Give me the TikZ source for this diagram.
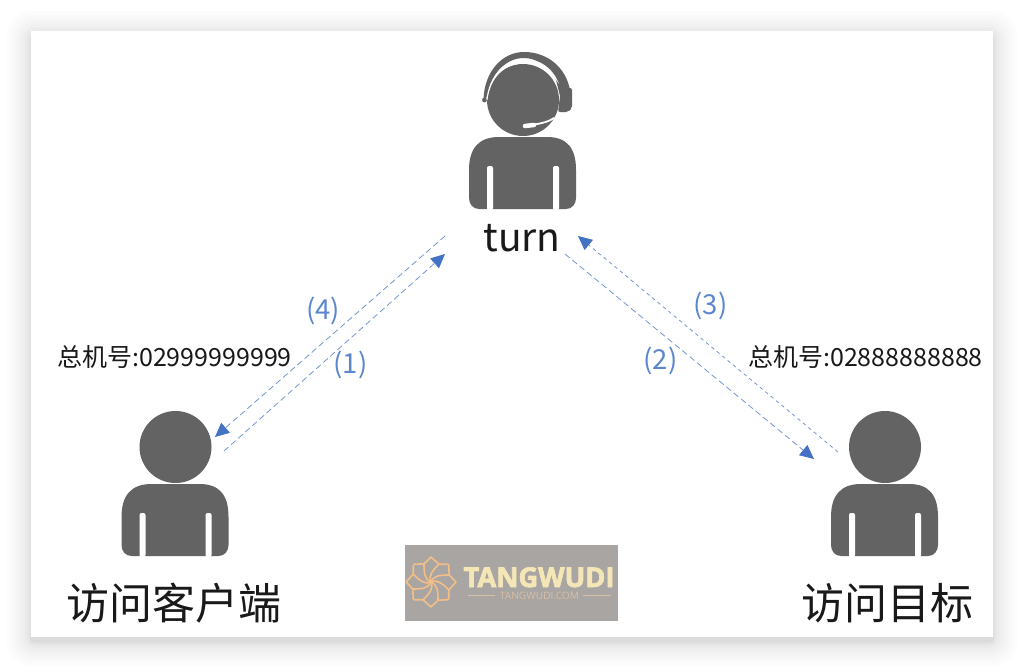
\documentclass[tikz,border=0pt]{standalone}
\usepackage{fontspec}
\setmainfont{Noto Sans CJK SC}
\newfontfamily\logofont[BoldFeatures={FakeBold=2.5}]{Open Sans}
\usetikzlibrary{arrows.meta}
\definecolor{figgray}{HTML}{636363}
\definecolor{flowblue}{HTML}{4472C4}
\definecolor{stepblue}{HTML}{5B87CF}
\definecolor{logogray}{HTML}{A9A5A2}
\definecolor{logopetal}{HTML}{F3BE88}
\definecolor{logoname}{HTML}{F5E6B8}
\definecolor{logosub}{HTML}{D8BFA6}
\tikzset{
	personfig/.pic={
		\fill[figgray] (0,0) circle (36);
		\fill[figgray] (-44,109) .. controls (-50,109) and (-54,104) .. (-54,98) -- (-54,70) .. controls (-54,48) and (-44,37) .. (-24,37) -- (24,37) .. controls (44,37) and (53,48) .. (53,70) -- (53,98) .. controls (53,104) and (49,109) .. (43,109) -- cycle;
		\fill[white,rounded corners=2] (-36,110) -- (-36,66) -- (-30,66) -- (-30,110) -- cycle;
		\fill[white,rounded corners=2] (30,110) -- (30,66) -- (36,66) -- (36,110) -- cycle;
	},
	flowline/.style={flowblue!75,line width=0.8pt,dash pattern=on 6pt off 3.5pt,-{Triangle[flowblue,length=14pt,width=13pt]}},
	steplabel/.style={font=\fontsize{27.5}{28}\selectfont,text=stepblue,inner sep=0pt},
	numlabel/.style={font=\fontsize{25}{26}\selectfont,text=black!90,inner sep=0pt},
	namelabel/.style={font=\fontsize{43}{44}\selectfont,text=black!90,inner sep=0pt},
}
\begin{document}
\begin{tikzpicture}[x=1pt,y=-1pt]
	\useasboundingbox (0,0) rectangle (1024,669);
	% soft shadow of the card
	\foreach \i in {1,...,12} {
		\fill[black,fill opacity=0.010,rounded corners=\i*2pt] ({31-\i*\i/6},{35-\i*\i/6}) rectangle ({993+\i*\i/6},{642+\i*\i/6});
	}
	\fill[white] (31,31) rectangle (993,637);

	% people
	\pic at (523,100) {personfig};
	\pic at (175.5,447) {personfig};
	\pic at (885,447) {personfig};

	% headset
	\fill[figgray] (483.5,100) .. controls (484,72) and (502,52) .. (524,52) .. controls (548,52) and (566,68) .. (570,90) -- (562,104) -- (556,80) .. controls (548,66) and (536,58) .. (524,58) .. controls (504,58) and (490,76) .. (486,100) -- cycle;
	\fill[figgray,rounded corners=2] (561,88) -- (572,88) -- (572,108) -- (568,112) -- (558,112) -- cycle;
	\fill[figgray] (484.5,100) circle (2.4);
	\fill[white] (486.5,100) .. controls (489,76) and (504,59) .. (524,59) .. controls (538,59) and (552,66) .. (559,84) .. controls (550,70) and (538,63.5) .. (524,63.5) .. controls (504,63.5) and (490,78) .. (487.5,100) -- cycle;
	\draw[white,line width=4.5pt,line cap=round] (525,126) -- (534,125);
	\draw[white,line width=1.8pt,line cap=round] (534,124.5) .. controls (542,123.5) and (550,121) .. (554,118);

	% connector ends
	\coordinate (custin) at (445,254);
	\coordinate (custout) at (224,451);
	\coordinate (backin) at (215,437);
	\coordinate (backout) at (445,236);
	\coordinate (goalin) at (814,459);
	\coordinate (goalout) at (565,254);
	\coordinate (turnin) at (578,236);
	\coordinate (turnout) at (838,452);

	\draw[flowline] (custout) -- (custin);
	\draw[flowline] (backout) -- (backin);
	\draw[flowline] (goalout) -- (goalin);
	\draw[flowline,dash pattern=on 3.5pt off 3.5pt] (turnout) -- (turnin);

	% texts
	\node[font=\fontsize{39}{40}\selectfont,text=black!90,inner sep=0pt] (turnname) at (522,238) {turn};
	\node[namelabel] (custname) at (174,603) {访问客户端};
	\node[namelabel] (goalname) at (887,603) {访问目标};
	\node[numlabel] (custnum) at (174.5,356.5) {总机号:02999999999};
	\node[numlabel] (goalnum) at (865.5,356.5) {总机号:02888888888};
	\node[steplabel] (stepone) at (350.5,365) {(1)};
	\node[steplabel] (steptwo) at (660.5,361) {(2)};
	\node[steplabel] (stepthree) at (710.5,306) {(3)};
	\node[steplabel] (stepfour) at (323,311) {(4)};

	% logo
	\fill[logogray] (405,545) rectangle (618,621);
	\foreach \a in {0,45,...,315} {
		\draw[logopetal,line width=1.6pt,line join=round,shift={(431,582)}] (\a:25) -- (\a+24:19.5) -- (\a+45:25);
		\draw[logopetal,line width=1.6pt,shift={(431,582)}] (\a+24:19.5) .. controls (\a+10:12) and (\a-20:8) .. (0,0);
	}
	\node[font=\logofont\bfseries\fontsize{27.3}{28}\selectfont,text=logoname,inner sep=0pt,anchor=base] (logoname) at (539,587) {TANGWUDI};
	\node[font=\logofont\fontsize{10.2}{10}\selectfont,text=logosub,inner sep=0pt,anchor=base] (logosite) at (539.5,599) {TANGWUDI.COM};
	\draw[logosub,line width=0.8pt] (468,595) -- (495,595);
	\draw[logosub,line width=0.8pt] (583,595) -- (611,595);
\end{tikzpicture}
\end{document}
